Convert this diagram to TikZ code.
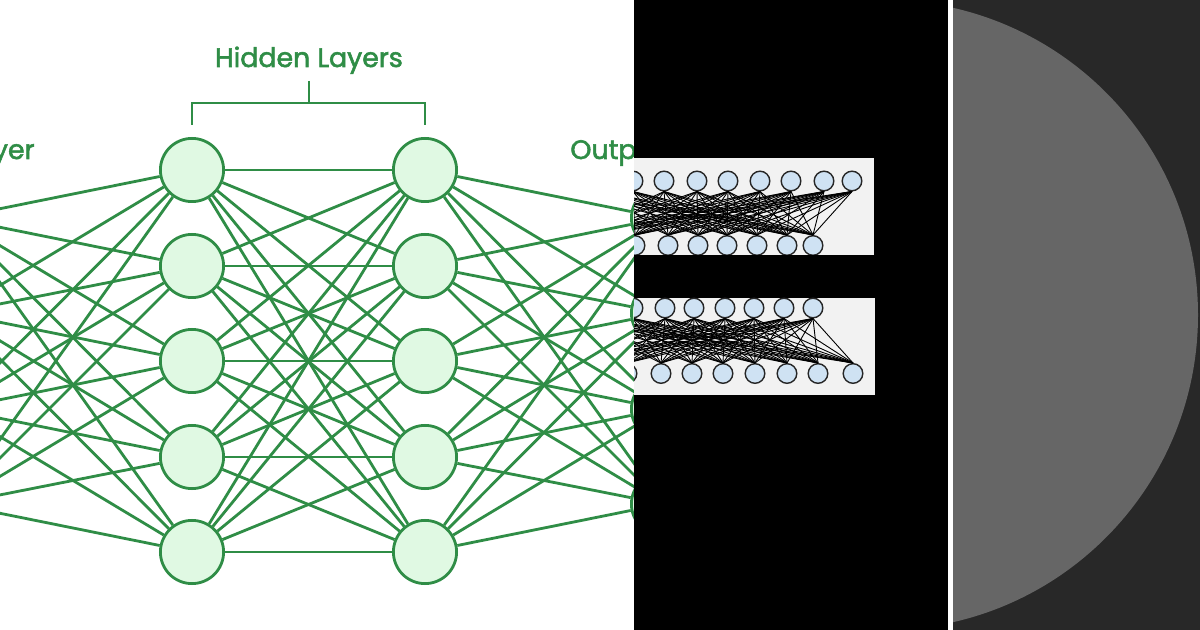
\documentclass[tikz,border=0pt]{standalone}
\usepackage{fontspec}
\setmainfont{Poppins}
\newfontfamily\lblfont{Poppins}[FakeBold=2]
\definecolor{gfg}{HTML}{2F8D46}
\definecolor{gfgfill}{HTML}{E0F9E3}
\definecolor{panelbg}{HTML}{F2F2F2}
\definecolor{nblue}{HTML}{CFE2F3}
\definecolor{nline}{HTML}{262626}
\definecolor{darkbg}{HTML}{282828}
\definecolor{discgray}{HTML}{666666}
\begin{document}
\begin{tikzpicture}[x=0.5pt,y=-0.5pt,
  gnode/.style={circle, draw=gfg, fill=gfgfill, line width=1.4pt, minimum size=31.6pt, inner sep=0pt},
  gedge/.style={draw=gfg, line width=1.4pt},
  glabel/.style={text=gfg, font=\lblfont\fontsize{13.4}{15}\selectfont, inner sep=0pt},
  bnode/.style={circle, draw=nline, fill=nblue, line width=0.7pt, minimum size=9.8pt, inner sep=0pt},
  bedge/.style={draw=black, line width=0.45pt},
  bracket/.style={draw=gfg, line width=1.4pt}]
\useasboundingbox (0,0) rectangle (1200,630);
\clip (0,0) rectangle (1200,630);
% ---------------- left picture: neural network ----------------
\fill[white] (0,0) rectangle (634,630);
\foreach \i/\y in {1/218,2/313,3/409,4/504} \coordinate (in\i) at (-46,\y);
\foreach \i/\y in {1/170,2/266,3/361,4/457,5/552} {
  \node[gnode] (ha\i) at (192,\y) {};
  \node[gnode] (hb\i) at (425,\y) {};
}
\foreach \i/\y in {1/218,2/313,3/409,4/504} \node[gnode] (out\i) at (663,\y) {};
\foreach \i in {1,...,4} \foreach \j in {1,...,5} \draw[gedge] (in\i) -- (ha\j);
\foreach \i in {1,...,5} \foreach \j in {1,...,5} \draw[gedge] (ha\i) -- (hb\j);
\foreach \i in {1,...,5} \foreach \j in {1,...,4} \draw[gedge] (hb\i) -- (out\j);
\node[glabel, anchor=base] (hid) at (309,67) {Hidden Layers};
\coordinate (brl) at (192,125);
\coordinate (brr) at (425,125);
\coordinate (brm) at (309,81);
\draw[bracket] (brl) |- (brm |- 0,103) -| (brr);
\draw[bracket] (brm) -- (brm |- 0,103);
\node[glabel, anchor=base east] (inlab) at (35,159) {Input Layer};
\node[glabel, anchor=base west] (outlab) at (570,159) {Output Layer};
% ---------------- middle picture ----------------
\fill[black] (634,0) rectangle (948,630);
\fill[white] (948,0) rectangle (953,630);
% panel 1
\begin{scope}
  \clip (634,158) rectangle (874,255);
  \fill[panelbg] (634,158) rectangle (874,255);
  \foreach \i/\x in {2/571,3/602} \coordinate (pat\i) at (\x,191.5);
  \foreach \i/\x in {4/633,5/664,6/697,7/728,8/760,9/791,10/824,11/852} {
    \node[bnode] (pAt\i) at (\x,181) {};
    \coordinate (pat\i) at (pAt\i.south);
  }
  \foreach \j/\x in {2/571,3/602} \coordinate (pab\j) at (\x,235);
  \foreach \j/\x in {4/635,5/668,6/698,7/727,8/757,9/787,10/813} {
    \node[bnode] (pAb\j) at (\x,245.5) {};
    \coordinate (pab\j) at (pAb\j.north);
  }
  \foreach \i in {2,...,11} \foreach \j in {2,...,10} \draw[bedge] (pat\i) -- (pab\j);
\end{scope}
% panel 2
\begin{scope}
  \clip (634,298) rectangle (875,395);
  \fill[panelbg] (634,298) rectangle (875,395);
  \foreach \i/\x in {2/571,3/602} \coordinate (qat\i) at (\x,318.5);
  \foreach \i/\x in {4/633,5/665,6/694,7/725,8/754,9/784,10/813} {
    \node[bnode] (qAt\i) at (\x,308) {};
    \coordinate (qat\i) at (qAt\i.south);
  }
  \foreach \j/\x in {2/565,3/596} \coordinate (qab\j) at (\x,363);
  \foreach \j/\x in {4/627,5/661,6/692,7/723,8/755,9/787,10/818,11/853} {
    \node[bnode] (qAb\j) at (\x,373.5) {};
    \coordinate (qab\j) at (qAb\j.north);
  }
  \foreach \i in {2,...,10} \foreach \j in {2,...,11} \draw[bedge] (qat\i) -- (qab\j);
\end{scope}
% ---------------- right picture ----------------
\fill[darkbg] (953,0) rectangle (1200,630);
\begin{scope}
  \clip (953,0) rectangle (1200,630);
  \fill[discgray] (883,315) circle[radius=315];
\end{scope}
\end{tikzpicture}
\end{document}
